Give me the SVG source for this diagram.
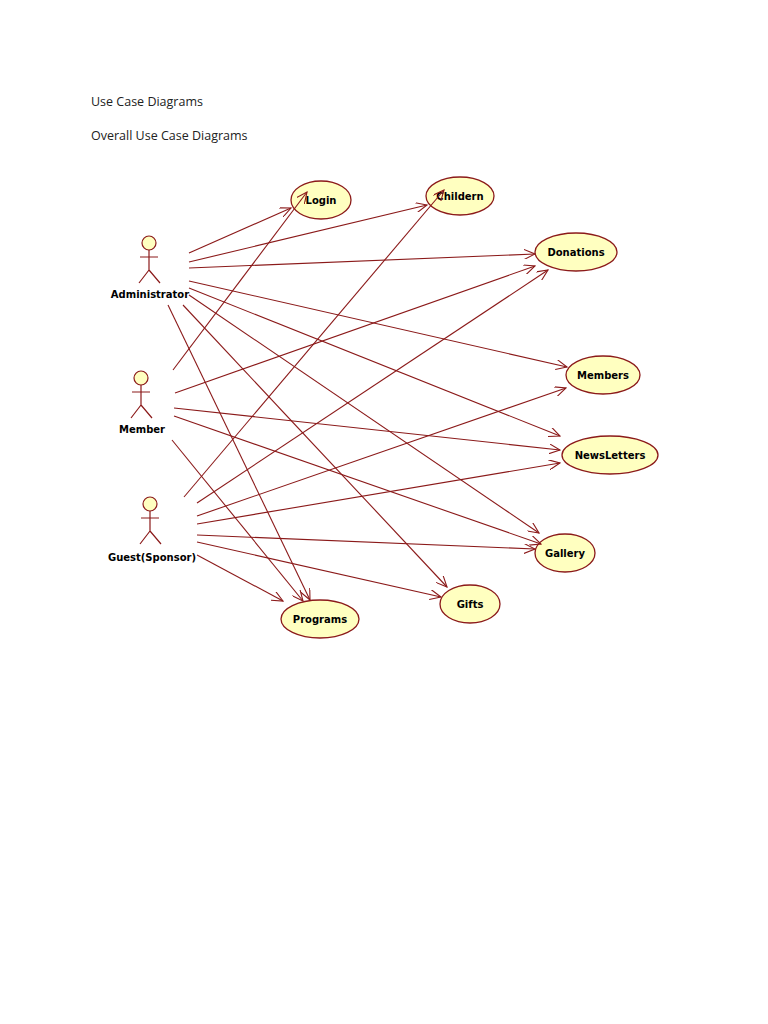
<svg xmlns="http://www.w3.org/2000/svg" width="768" height="1024" viewBox="0 0 768 1024">
<style>
.t{font-family:"Open Sans","Liberation Sans",sans-serif;font-size:12.5px;fill:#222}
.l{font-family:"DejaVu Sans",sans-serif;font-size:10px;font-weight:bold;fill:#000;text-anchor:middle}
.uc{fill:#ffffc0;stroke:#8b1a1a;stroke-width:1.3}
.a{stroke:#8b1a1a;stroke-width:1.2;fill:none}
.h{fill:#ffffc0;stroke:#8b1a1a;stroke-width:1.2}
.c line{stroke:#8b1a1a;stroke-width:1.1;marker-end:url(#ar)}
</style>
<defs><marker id="ar" markerWidth="12" markerHeight="10" refX="11" refY="5" orient="auto" markerUnits="userSpaceOnUse"><path d="M0,0 L11,5 L0,10" fill="none" stroke="#8b1a1a" stroke-width="1.1"/></marker></defs>
<rect width="768" height="1024" fill="#fff"/>
<text class="t" x="91" y="106">Use Case Diagrams</text>
<text class="t" x="91" y="140">Overall Use Case Diagrams</text>
<g id="admin"><circle class="h" cx="149" cy="243" r="7"/><path class="a" d="M149,250V270M140,257H158M149,270L139,283M149,270L160,283"/><text class="l" x="150" y="298">Administrator</text></g>
<g id="member"><circle class="h" cx="141" cy="378" r="7"/><path class="a" d="M141,385V405M132,392H150M141,405L131,418M141,405L152,418"/><text class="l" x="142" y="433">Member</text></g>
<g id="guest"><circle class="h" cx="150" cy="504" r="7"/><path class="a" d="M150,511V531M141,518H159M150,531L140,544M150,531L161,544"/><text class="l" x="152" y="561">Guest(Sponsor)</text></g>
<g id="login"><ellipse class="uc" cx="321" cy="200" rx="30" ry="19"/><text class="l" x="321" y="204">Login</text></g>
<g id="childern"><ellipse class="uc" cx="460" cy="196" rx="34" ry="19"/><text class="l" x="460" y="200">Childern</text></g>
<g id="donations"><ellipse class="uc" cx="576" cy="252" rx="41" ry="19"/><text class="l" x="576" y="256">Donations</text></g>
<g id="members"><ellipse class="uc" cx="603" cy="375" rx="37" ry="19"/><text class="l" x="603" y="379">Members</text></g>
<g id="newsletters"><ellipse class="uc" cx="610" cy="455" rx="48" ry="19"/><text class="l" x="610" y="459">NewsLetters</text></g>
<g id="gallery"><ellipse class="uc" cx="565" cy="553" rx="30" ry="19"/><text class="l" x="565" y="557">Gallery</text></g>
<g id="gifts"><ellipse class="uc" cx="470" cy="604" rx="30" ry="19"/><text class="l" x="470" y="608">Gifts</text></g>
<g id="programs"><ellipse class="uc" cx="320" cy="619" rx="39" ry="19"/><text class="l" x="320" y="623">Programs</text></g>
<g class="c" id="connectors">
<line x1="189" y1="253" x2="291" y2="208"/>
<line x1="189" y1="262" x2="427" y2="205"/>
<line x1="189" y1="268" x2="535" y2="254"/>
<line x1="189" y1="281" x2="567" y2="367"/>
<line x1="189" y1="288" x2="560" y2="436"/>
<line x1="189" y1="295" x2="539" y2="533"/>
<line x1="183" y1="305" x2="447" y2="587"/>
<line x1="168" y1="305" x2="310" y2="600"/>
<line x1="173" y1="370" x2="307" y2="192"/>
<line x1="175" y1="393" x2="535" y2="266"/>
<line x1="174" y1="408" x2="560" y2="450"/>
<line x1="174" y1="416" x2="541" y2="544"/>
<line x1="172" y1="440" x2="303" y2="601"/>
<line x1="184" y1="497" x2="444" y2="190"/>
<line x1="197" y1="503" x2="548" y2="270"/>
<line x1="197" y1="516" x2="566" y2="388"/>
<line x1="197" y1="524" x2="560" y2="463"/>
<line x1="197" y1="535" x2="535" y2="549"/>
<line x1="197" y1="542" x2="441" y2="597"/>
<line x1="197" y1="555" x2="283" y2="601"/>
</g>
</svg>
